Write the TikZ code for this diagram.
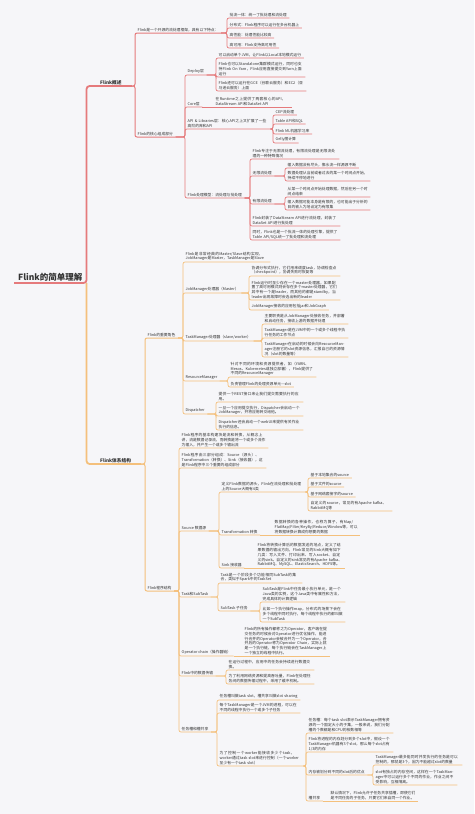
\documentclass[tikz,border=0pt]{standalone}
\usepackage{fontspec}
\setmainfont{Noto Sans CJK SC}
\XeTeXlinebreaklocale "zh"
\XeTeXlinebreakskip=0pt plus 0.5pt
\usetikzlibrary{positioning}

\definecolor{bgcol}{RGB}{246,246,249}
\definecolor{redline}{RGB}{229,122,124}
\definecolor{orgline}{RGB}{244,192,124}
\definecolor{txtcol}{RGB}{51,51,51}

\begin{document}
\begin{tikzpicture}[
		x=1pt, y=-1pt,
		every node/.style={text=txtcol},
		rootbox/.style={anchor=south west, inner xsep=4pt, inner ysep=1.5pt, font=\fontsize{8.5}{10}\selectfont\bfseries},
		mainbox/.style={anchor=south west, inner xsep=10pt, inner ysep=1.2pt, font=\fontsize{4.7}{5.6}\selectfont\bfseries},
		leaf/.style={anchor=south west, inner xsep=2.5pt, inner ysep=1pt, align=left, font=\fontsize{3.8}{4.8}\selectfont},
		wr/.style={leaf, text width=#1pt},
		redA/.style={draw=redline, line width=1.8pt, rounded corners=3pt},
		redB/.style={draw=redline, line width=1pt, rounded corners=2pt},
		redC/.style={draw=redline, line width=0.7pt, rounded corners=2pt},
		orgA/.style={draw=orgline, line width=1.8pt, rounded corners=3pt},
		orgB/.style={draw=orgline, line width=1pt, rounded corners=2pt},
		orgC/.style={draw=orgline, line width=0.7pt, rounded corners=2pt}
		]
		\useasboundingbox (0,0) rectangle (474,814);
		\fill[bgcol] (0,0) rectangle (474,814);
		
		% =========================================================
		% 1. Root and main branches
		% =========================================================
		\node[rootbox] (root) at (14,283) {Flink的简单理解};
		\node[mainbox] (ov) at (90,86) {Flink概述};
		\node[mainbox] (arch) at (90,464) {Flink体系结构};
		
		% =========================================================
		% 2. Flink概述
		% =========================================================
		\node[leaf] (feat) at (135,33) {Flink是一个开源的流处理框架，具有以下特点：};
		\node[leaf] (f1) at (227,18) {批流一体：统一了批处理和流处理};
		\node[leaf] (f2) at (227,28) {分布式：Flink程序可以运行在多台机器上};
		\node[leaf] (f3) at (227,38) {高性能：处理性能比较高};
		\node[leaf] (f4) at (227,48) {高可用：Flink支持高可用性};
		
		\node[leaf] (core) at (135,137) {Flink的核心组成部分};
		\node[leaf] (deploy) at (185,75) {Deploy层};
		\node[leaf] (dp1) at (216,58) {可以启动单个JVM，让Flink以Local本地模式运行};
		\node[wr=84] (dp2) at (216,77) {Flink也可以Standalone集群模式运行，同时也支持Flink On Yarn，Flink应用直接提交到Yarn上面运行};
		\node[wr=85] (dp3) at (216,91) {Flink还可以运行在GCE（谷歌云服务）和EC2（亚马逊云服务）上面};
		\node[leaf] (corel) at (185,107) {Core层};
		\node[wr=74] (cl1) at (213,107) {在Runtime之上提供了两套核心的API，DataStream API和DataSet API};
		\node[wr=80] (api) at (185,129) {API \& Libraries层：核心API之上又扩展了一些高阶的库和API};
		\node[leaf] (api1) at (273,115) {CEP流处理};
		\node[leaf] (api2) at (273,124) {Table API和SQL};
		\node[leaf] (api3) at (273,134) {Flink ML机器学习库};
		\node[leaf] (api4) at (273,143) {Gelly图计算};
		
		\node[leaf] (model) at (185,198) {Flink处理模型：流处理与批处理};
		\node[wr=84] (md1) at (250,159) {Flink专注于无限流处理，有限流处理是无限流处理的一种特殊情况};
		\node[leaf] (unb) at (250,176) {无限流处理};
		\node[leaf] (ub1) at (285,168) {输入数据没有尽头，像水流一样源源不断};
		\node[wr=80] (ub2) at (285,181) {数据处理从当前或者过去的某一个时间点开始，持续不停地进行};
		\node[leaf] (bnd) at (250,204) {有限流处理};
		\node[wr=80] (bd1) at (285,197) {从某一个时间点开始处理数据，然后在另一个时间点结束};
		\node[wr=80] (bd2) at (285,210) {输入数据可能本身是有限的，也可能出于分析的目的被人为地设定为有限集};
		\node[wr=85] (md2) at (250,226) {Flink封装了DataStream API进行流处理，封装了DataSet API进行批处理};
		\node[wr=85] (md3) at (250,240) {同时，Flink也是一个批流一体的处理引擎，提供了Table API/SQL统一了批处理和流处理};
		
		% =========================================================
		% 3. Flink体系结构: roles
		% =========================================================
		\node[leaf] (role) at (145,338) {Flink的重要角色};
		\node[wr=82] (rl1) at (183,262) {Flink是非常经典的Master/Slave结构实现，JobManager是Master，TaskManager是Slave};
		\node[leaf] (jm) at (183,293) {JobManager处理器（Master）};
		\node[wr=86] (jm1) at (249,276) {协调分布式执行，它们用来调度task，协调检查点（checkpoint），协调失败时恢复等};
		\node[wr=86] (jm2) at (249,300) {Flink运行时至少存在一个master处理器，如果配置了高可用模式则会存在多个master处理器，它们其中有一个是leader，而其他的都是standby，当leader出现故障时会选出新的leader};
		\node[leaf] (jm3) at (249,310) {JobManager接收的应用包括jar和JobGraph};
		\node[leaf] (tm) at (183,341) {TaskManager处理器（slave/worker）};
		\node[wr=81] (tm1) at (262,324) {主要职责是从JobManager处接收任务，并部署和启动任务，接收上游的数据并处理};
		\node[wr=81] (tm2) at (262,338) {TaskManager是在JVM中的一个或多个线程中执行任务的工作节点};
		\node[wr=81] (tm3) at (262,357) {TaskManager在启动的时候会向ResourceManager注册它的slot资源信息，汇报自己的资源情况（slot的数量等）};
		\node[leaf] (rm) at (183,381) {ResourceManager};
		\node[wr=83] (rm1) at (228,377) {针对不同的环境和资源提供者，如（YARN、Mesos、Kubernetes或独立部署），Flink提供了不同的ResourceManager};
		\node[leaf] (rm2) at (228,387) {负责管理Flink的处理资源单元---slot};
		\node[leaf] (dis) at (183,414) {Dispatcher};
		\node[wr=82] (ds1) at (216,402) {提供一个REST接口来让我们提交需要执行的应用。};
		\node[wr=82] (ds2) at (216,416) {一旦一个应用提交执行，Dispatcher会启动一个JobManager，并将应用转交给他。};
		\node[wr=82] (ds3) at (216,430) {Dispatcher还会启动一个webUI来提供有关作业执行的信息。};
		
		% =========================================================
		% 4. Flink体系结构: program structure
		% =========================================================
		\node[leaf] (prog) at (145,591) {Flink程序结构};
		\node[wr=84] (pg1) at (179,448) {Flink程序的基本构建块是流和转换，从概念上讲，流是数据记录流，而转换是将一个或多个流作为输入，并产生一个或多个输出流};
		\node[wr=82] (pg2) at (179,468) {Flink程序由三部分组成：Source（源头）、Transformation（转换）、Sink（接收器），这是Flink程序中三个重要的组成部分};
		\node[leaf] (src) at (179,531) {Source 数据源};
		\node[wr=81] (sr1) at (219,492) {定义Flink数据的源头，Flink在流处理和批处理上的Source大概有4类};
		\node[leaf] (sr11) at (308,478) {基于本地集合的source};
		\node[leaf] (sr12) at (308,487) {基于文件的source};
		\node[leaf] (sr13) at (308,497) {基于网络套接字的source};
		\node[wr=79] (sr14) at (308,511) {自定义的source，常见的有Apache kafka、RabbitMQ等};
		\node[leaf] (trf) at (219,535) {Transformation 转换};
		\node[wr=83] (tf1) at (272,535) {数据转换的各种操作，也称为算子，有Map/FlatMap/Filter/KeyBy/Reduce/Window等，可以将数据转换计算成你想要的数据};
		\node[leaf] (snk) at (219,568) {Sink 接收器};
		\node[wr=85] (sk1) at (255,568) {Flink将转换计算后的数据发送的地点，定义了结果数据的输出方向，Flink常见的Sink大概有如下几类：写入文件、打印出来、写入socket、自定义的sink。自定义的sink常见的有Apache kafka、RabbitMQ、MySQL、ElasticSearch、HDFS等。};
		\node[leaf] (task) at (179,597) {Task和SubTask};
		\node[wr=79] (tk1) at (218,583) {Task是一个阶段多个功能相同SubTask的集合，类似于Spark中的TaskSet};
		\node[leaf] (sub) at (218,611) {SubTask 子任务};
		\node[wr=80] (sb1) at (260,602) {SubTask是Flink中任务最小执行单元，是一个Java类的实例，这个Java类中有属性和方法，完成具体的计算逻辑};
		\node[wr=80] (sb2) at (260,622) {比如一个执行操作map，分布式的场景下会在多个线程中同时执行，每个线程中执行的都叫做一个SubTask};
		\node[leaf] (opc) at (179,656) {Operator chain（操作器链）};
		\node[wr=83] (oc1) at (242,656) {Flink的所有操作都称之为Operator，客户端在提交任务的时候会对Operator进行优化操作，能进行合并的Operator会被合并为一个Operator，合并后的Operator称为Operator Chain，实际上就是一个执行链，每个执行链会在TaskManager上一个独立的线程中执行。};
		\node[leaf] (trans) at (179,676) {Flink中的数据传输};
		\node[wr=83] (tr1) at (226,670) {在运行过程中，应用中的任务会持续进行数据交换。};
		\node[wr=83] (tr2) at (226,684) {为了利用网络资源和提高吞吐量，Flink在处理任务间的数据传输过程中，采用了缓冲机制。};
		\node[leaf] (slot) at (179,732) {任务槽和槽共享};
		\node[wr=78] (sl1) at (217,700) {任务槽叫做task slot，槽共享叫做slot sharing};
		\node[wr=78] (sl2) at (217,713) {每个TaskManager是一个JVM的进程，可以在不同的线程中执行一个或多个子任务};
		\node[wr=81] (sl3) at (217,766) {为了控制一个worker能接收多少个task，worker通过task slot来进行控制（一个worker至少有一个task slot）};
		\node[wr=82] (sl31) at (306,733) {任务槽：每个task slot表示TaskManager拥有资源的一个固定大小的子集，一般来说，我们分配槽的个数都是和CPU的核数相等};
		\node[wr=82] (sl32) at (306,752) {Flink将进程的内存划分到多个slot中，假设一个TaskManager机器有3个slot，那么每个slot占有1/3的内存};
		\node[leaf] (sl33) at (306,775) {内存被划分到不同的slot后的优点};
		\node[wr=84] (sl331) at (373,765) {TaskManager最多能同时并发执行的任务是可以控制的，那就是3个，因为不能超过slot的数量};
		\node[wr=79] (sl332) at (373,785) {slot有独占的内存空间，这样在一个TaskManager中可以运行多个不同的作业，作业之间不受影响，互相隔离。};
		\node[leaf] (sl34) at (306,801) {槽共享};
		\node[wr=85] (sl341) at (328,801) {默认情况下，Flink允许子任务共享插槽，即使它们是不同任务的子任务，只要它们来自同一个作业。};
		
		% =========================================================
		% 5. Connectors
		% =========================================================
		\draw[redA] (root.south west) -- (root.south east) |- (ov.south east);
		\draw[orgA] (root.south east) |- (arch.south east);
		
		\foreach \c in {feat,core} \draw[redB] (ov.south east) -| (\c.south west) -- (\c.south east);
		\foreach \c in {f1,f2,f3,f4} \draw[redC] (feat.south east) -| (\c.south west) -- (\c.south east);
		\foreach \c in {deploy,corel,api,model} \draw[redC] (core.south east) -| (\c.south west) -- (\c.south east);
		\foreach \c in {dp1,dp2,dp3} \draw[redC] (deploy.south east) -| (\c.south west) -- (\c.south east);
		\draw[redC] (corel.south east) -- (cl1.south east);
		\foreach \c in {api1,api2,api3,api4} \draw[redC] (api.south east) -| (\c.south west) -- (\c.south east);
		\foreach \c in {md1,unb,bnd,md2,md3} \draw[redC] (model.south east) -| (\c.south west) -- (\c.south east);
		\foreach \c in {ub1,ub2} \draw[redC] (unb.south east) -| (\c.south west) -- (\c.south east);
		\foreach \c in {bd1,bd2} \draw[redC] (bnd.south east) -| (\c.south west) -- (\c.south east);
		
		\foreach \c in {role,prog} \draw[orgB] (arch.south east) -| (\c.south west) -- (\c.south east);
		\foreach \c in {rl1,jm,tm,rm,dis} \draw[orgC] (role.south east) -| (\c.south west) -- (\c.south east);
		\foreach \c in {jm1,jm2,jm3} \draw[orgC] (jm.south east) -| (\c.south west) -- (\c.south east);
		\foreach \c in {tm1,tm2,tm3} \draw[orgC] (tm.south east) -| (\c.south west) -- (\c.south east);
		\foreach \c in {rm1,rm2} \draw[orgC] (rm.south east) -| (\c.south west) -- (\c.south east);
		\foreach \c in {ds1,ds2,ds3} \draw[orgC] (dis.south east) -| (\c.south west) -- (\c.south east);
		\foreach \c in {pg1,pg2,src,task,opc,trans,slot} \draw[orgC] (prog.south east) -| (\c.south west) -- (\c.south east);
		\foreach \c in {sr1,trf,snk} \draw[orgC] (src.south east) -| (\c.south west) -- (\c.south east);
		\foreach \c in {sr11,sr12,sr13,sr14} \draw[orgC] (sr1.south east) -| (\c.south west) -- (\c.south east);
		\draw[orgC] (trf.south east) -- (tf1.south east);
		\draw[orgC] (snk.south east) -- (sk1.south east);
		\foreach \c in {tk1,sub} \draw[orgC] (task.south east) -| (\c.south west) -- (\c.south east);
		\foreach \c in {sb1,sb2} \draw[orgC] (sub.south east) -| (\c.south west) -- (\c.south east);
		\draw[orgC] (opc.south east) -- (oc1.south east);
		\foreach \c in {tr1,tr2} \draw[orgC] (trans.south east) -| (\c.south west) -- (\c.south east);
		\foreach \c in {sl1,sl2,sl3} \draw[orgC] (slot.south east) -| (\c.south west) -- (\c.south east);
		\foreach \c in {sl31,sl32,sl33,sl34} \draw[orgC] (sl3.south east) -| (\c.south west) -- (\c.south east);
		\foreach \c in {sl331,sl332} \draw[orgC] (sl33.south east) -| (\c.south west) -- (\c.south east);
		\draw[orgC] (sl34.south east) -- (sl341.south east);
	\end{tikzpicture}
\end{document}
